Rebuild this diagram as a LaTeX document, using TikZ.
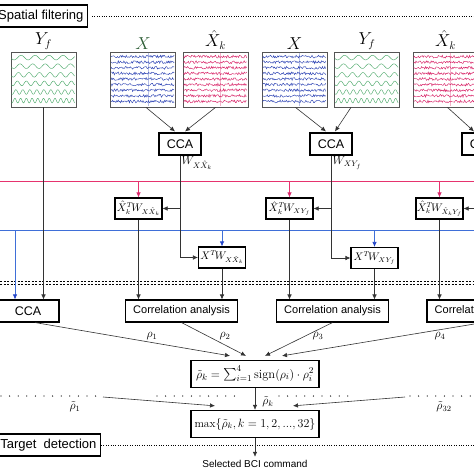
\documentclass[tikz,border=0pt]{standalone}
\usepackage{amsmath,amssymb}
\usepackage{fontspec}
\setsansfont{Liberation Sans}
\usepackage{tikz}
\usetikzlibrary{calc,arrows.meta,positioning}
\definecolor{sinegreen}{HTML}{4FAA6C}
\definecolor{labgreen}{HTML}{2E5E36}
\definecolor{eegblue}{HTML}{2F45B5}
\definecolor{eegpink}{HTML}{D9276A}
\definecolor{pinkline}{HTML}{E6336E}
\definecolor{blueline}{HTML}{3F6FD8}
\definecolor{bluetip}{HTML}{2244C8}
\definecolor{framegray}{HTML}{555555}
\definecolor{wire}{HTML}{333333}
\tikzset{
  panel/.style={draw=framegray, line width=0.8pt, minimum width=65pt, minimum height=55pt, inner sep=0pt},
  sig/.style={font=\fontsize{16}{18}\selectfont, inner sep=1pt},
  op/.style={draw, line width=1.1pt, font=\sffamily\fontsize{12.5}{14}\selectfont, minimum width=42pt, minimum height=22pt, inner sep=1pt},
  wbox/.style={draw, line width=1.1pt, font=\fontsize{10.5}{12}\selectfont, minimum width=47pt, minimum height=21pt, inner sep=0pt},
  corr/.style={draw, line width=1.1pt, font=\sffamily\fontsize{11}{13}\selectfont, minimum width=112pt, minimum height=22pt, inner sep=1pt},
  fusebox/.style={draw, line width=1.3pt, minimum width=128pt, minimum height=27pt, inner sep=1pt},
  stage/.style={draw, line width=1.1pt, font=\sffamily\fontsize{13}{15}\selectfont, minimum height=22pt, inner sep=4pt},
  link/.style={draw=wire, line width=0.6pt, -{Latex[length=5pt,width=4.5pt]}},
  pinkarr/.style={draw=pinkline, line width=0.7pt, -{Latex[length=5pt,width=4.5pt,color=eegpink]}},
  bluearr/.style={draw=blueline, line width=0.7pt, -{Latex[length=5pt,width=4.5pt,color=bluetip]}},
  sep/.style={line width=0.7pt, dash pattern=on 1pt off 1.4pt},
  dots/.style={line width=1.3pt, line cap=round, dash pattern=on 0pt off 8.6pt},
  lab/.style={font=\fontsize{12}{14}\selectfont, inner sep=1pt},
}
\newcommand{\sinetraces}[1]{%
  \begin{scope}[shift={(#1.north west)}]
    \foreach \r/\f in {0/4.5,1/5,2/6,3/7,4/9,5/11}
      \draw[sinegreen, line width=0.45pt] plot[domain=1:64, samples=150, smooth] (\x, {6+\r*8.6+2.3*sin(\f*\x/63*360)});
  \end{scope}}
\newcommand{\eegtraces}[2]{%
  \begin{scope}[shift={(#1.north west)}]
    \draw[#2!35, line width=0.5pt] (38,1) -- (38,54);
    \foreach \r in {0,...,8}
      \draw[#2, line width=0.45pt] plot[domain=1:64, samples=80] (\x, {5+\r*5.6+1.4*rand});
  \end{scope}}

\begin{document}
\begin{tikzpicture}[x=1pt, y=-1pt]
\clip (0,0) rectangle (474,474);
\fill[white] (0,0) rectangle (474,474);

% stages
\node[stage, anchor=east] (spatial) at (88,16) {Spatial filtering};
\draw[sep] (spatial.east) ++(4,0) -- (474,16);
\node[stage, anchor=east] (target) at (101,445) {Target\ \ detection};

% reference and EEG panels
\node[panel] (yf1) at (43.5,79.5) {};
\node[panel] (x1) at (143,79.5) {};
\node[panel] (xh1) at (215.5,79.5) {};
\node[panel] (x2) at (294.5,79.5) {};
\node[panel] (yf2) at (367,79.5) {};
\node[panel] (xh3) at (445.5,79.5) {};
\pgfmathsetseed{11}
\sinetraces{yf1}
\sinetraces{yf2}
\eegtraces{x1}{eegblue}
\eegtraces{xh1}{eegpink}
\eegtraces{x2}{eegblue}
\eegtraces{xh3}{eegpink}
\node[sig, above=1pt of yf1] {$Y_f$};
\node[sig, above=1pt of x1, text=labgreen] {$X$};
\node[sig, above=1pt of xh1] {$\hat{X}_k$};
\node[sig, above=1pt of x2] {$X$};
\node[sig, above=1pt of yf2] {$Y_f$};
\node[sig, above=1pt of xh3] {$\hat{X}_k$};

% CCA of each pair
\node[op] (cca1) at (180,144) {CCA};
\node[op] (cca2) at (331,144) {CCA};
\node[op] (cca3) at (483,144) {CCA};
\draw[link] ($(x1.south)+(3,0)$) -- ($(cca1.north)+(-5,-1)$);
\draw[link] ($(xh1.south)+(0,0)$) -- ($(cca1.north)+(5,-1)$);
\draw[link] ($(x2.south)+(1,0)$) -- ($(cca2.north)+(-5,-1)$);
\draw[link] ($(yf2.south)+(-16,0)$) -- ($(cca2.north)+(4,-1)$);
\draw[link] ($(xh3.south)+(2,0)$) -- ($(cca3.north)+(-9,-1)$);
\node[lab, below right=0pt and 0.5pt of cca1.south] {$W_{X\hat{X}_k}$};
\node[lab, below right=0pt and 0.5pt of cca2.south] {$W_{XY_f}$};

% projected signals
\coordinate (pinkL) at (0,181);
\coordinate (pinkR) at (474,181);
\coordinate (blueL) at (0,230);
\coordinate (blueR) at (474,230);
\draw[pinkline, line width=0.7pt] (pinkL) -- (pinkR);
\draw[blueline, line width=0.7pt] (blueL) -- (blueR);

\node[wbox] (xhw1) at (138.5,208.5) {$\hat{X}_k^T\!W_{X\hat{X}_k}$};
\node[wbox] (xw1) at (222,257.5) {$X^T\!W_{X\hat{X}_k}$};
\node[wbox] (xhw2) at (289.5,208.5) {$\hat{X}_k^T\!W_{XY_f}$};
\node[wbox] (xw2) at (374.5,258) {$X^T\!W_{XY_f}$};
\node[wbox] (xhw3) at (439.5,208.5) {$\hat{X}_k^T\!W_{\hat{X}_kY_f}$};

\draw[pinkarr] (xhw1.north |- pinkL) -- (xhw1.north);
\draw[pinkarr] (xhw2.north |- pinkL) -- (xhw2.north);
\draw[pinkarr] (xhw3.north |- pinkL) -- (xhw3.north);
\draw[bluearr] (xw1.north |- blueL) -- (xw1.north);
\draw[bluearr] (xw2.north |- blueL) -- (xw2.north);

\draw[link] (cca1.south) |- (xw1.west);
\draw[link] (cca1.south |- xhw1.east) -- (xhw1.east);
\draw[link] (cca2.south) |- (xw2.west);
\draw[link] (cca2.south |- xhw2.east) -- (xhw2.east);
\draw[link] (cca3.south) |- (xhw3.east);

% border between the two halves
\draw[line width=0.7pt, dash pattern=on 2.2pt off 1.3pt] (0,281) -- (474,281);
\draw[line width=0.7pt, dash pattern=on 2.2pt off 1.3pt] (0,284.5) -- (474,284.5);

% correlation coefficients
\node[op, minimum width=62pt] (ccal) at (28,311) {CCA};
\node[corr] (corr1) at (181.5,311) {Correlation analysis};
\node[corr] (corr2) at (332.5,311) {Correlation analysis};
\node[corr] (corr3) at (483,311) {Correlation analysis};
\draw[bluearr] (15,230) -- (ccal.north -| 15,0);
\draw[link] (yf1.south) -- (yf1.south |- ccal.north);
\draw[link] (xhw1.south) -- (xhw1.south |- corr1.north);
\draw[link] (xw1.south) -- (xw1.south |- corr1.north);
\draw[link] (xhw2.south) -- (xhw2.south |- corr2.north);
\draw[link] (xw2.south) -- (xw2.south |- corr2.north);
\draw[link] (xhw3.south) -- (xhw3.south |- corr3.north);

% fusion of the four coefficients
\node[fusebox, font=\fontsize{12.5}{14}\selectfont] (fus) at (255,374) {$\tilde{\rho}_k=\sum_{i=1}^{4}\mathrm{sign}(\rho_i)\cdot\rho_i^2$};
\draw[link] ($(ccal.south)+(7,0)$) -- ($(fus.north)+(-25,-4)$);
\draw[link] (corr1.south) -- ($(fus.north)+(-9,-4)$);
\draw[link] (corr2.south) -- ($(fus.north)+(10,-4)$);
\draw[link] (corr3.south) -- ($(fus.north)+(27,-4)$);
\node[lab] at (152,336) {$\rho_1$};
\node[lab] at (225,336) {$\rho_2$};
\node[lab] at (318,336) {$\rho_3$};
\node[lab] at (440,336) {$\rho_4$};

% target detection
\node[fusebox, font=\fontsize{11.5}{13}\selectfont] (maxb) at (255,424) {$\max\{\tilde{\rho}_k, k=1,2,...,32\}$};
\draw[link] (fus.south) -- (maxb.north);
\node[lab] at (268,402) {$\tilde{\rho}_k$};
\coordinate (firsttail) at (103,397);
\coordinate (lasttail) at (405,397);
\draw[link] (firsttail) -- ($(maxb.north)+(-40,-4)$);
\draw[link] (lasttail) -- ($(maxb.north)+(38,-4)$);
\draw[dots] (1,396) -- (98,396);
\draw[dots] (157,396) -- (240,396);
\draw[dots] (279,396) -- (355,396);
\draw[dots] (410,396) -- (474,396);
\node[lab] at (75,407) {$\tilde{\rho}_1$};
\node[lab] at (444,407) {$\tilde{\rho}_{32}$};
\draw[sep] (target.east) -- (474,445);
\node[font=\sffamily\fontsize{10}{12}\selectfont] (cmd) at (255,464) {Selected BCI command};
\draw[link] (maxb.south) -- (cmd.north);
\end{tikzpicture}
\end{document}
